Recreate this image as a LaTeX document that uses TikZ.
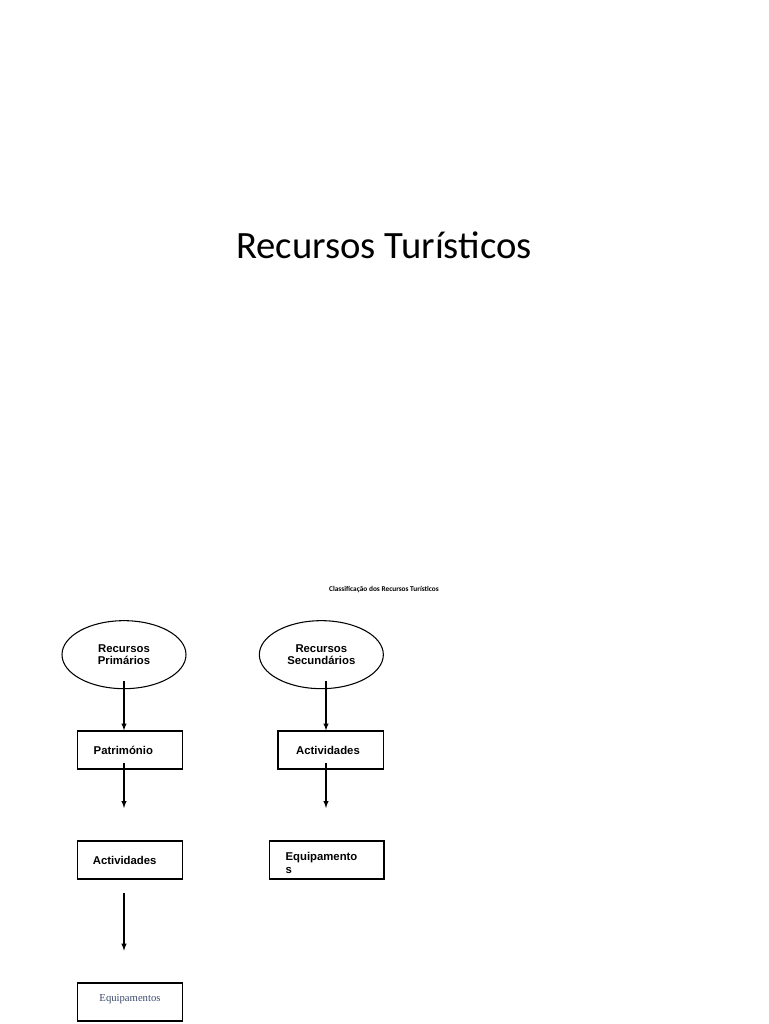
\documentclass[tikz,border=0pt]{standalone}
\usepackage{fontspec}
\setmainfont{Liberation Sans}
\newfontfamily\titlefont{Carlito}
\newfontfamily\eqfont{Liberation Serif}
\usetikzlibrary{shapes.geometric, positioning}
\definecolor{eqblue}{RGB}{60,75,110}
\begin{document}
\begin{tikzpicture}[x=1pt,y=-1pt,
    every node/.style={inner sep=0pt},
    recurso/.style={ellipse, draw, thick, minimum width=93pt, minimum height=51pt, font=\bfseries\fontsize{8.5}{9.5}\selectfont, align=center},
    caixa/.style={rectangle, draw, thick, minimum width=79pt, minimum height=28.5pt, font=\bfseries\fontsize{8.5}{9.5}\selectfont},
    seta/.style={-latex, thick}]
\useasboundingbox (0,0) rectangle (576,768);
\node (titulo) at (288,184) {\titlefont\fontsize{29}{34}\selectfont Recursos Turísticos};
\node (subtitulo) at (288,442.5) {\titlefont\bfseries\fontsize{5.5}{6.5}\selectfont Classificação dos Recursos Turísticos};

\node[recurso] (prim) at (93,491) {Recursos\\Primários};
\node[recurso] (sec) at (241,491) {Recursos\\Secundários};

\node[caixa] (patr) at (97.5,562.5) {\hspace*{-10pt}Património};
\node[caixa] (activ2) at (248,562.5) {\hspace*{-4pt}Actividades};
\node[caixa] (activ1) at (97.5,645) {\hspace*{-8pt}Actividades};
\node[caixa, minimum width=86pt] (equip2) at (245,645) {};
\node[font=\bfseries\fontsize{8.5}{9.5}\selectfont, align=left, fill=white, inner sep=1pt, anchor=north west] (equiptxt) at (213,638) {Equipamento\\s};
\node[caixa, font=\eqfont\fontsize{8}{9}\selectfont\color{eqblue}] (equip1) at (97.5,751.5) {\raisebox{6pt}{Equipamentos}};

% setas
\coordinate (p1) at (93,511);
\coordinate (p2) at (93,572);
\coordinate (p3) at (93,606);
\coordinate (p4) at (93,670);
\coordinate (p5) at (93,713);
\coordinate (s1) at (244.5,511);
\coordinate (s2) at (244.5,572);
\coordinate (s3) at (244.5,606);
\draw[seta] (p1) -- (patr.north -| p1);
\draw[seta] (p2) -- (p3);
\draw[seta] (p4) -- (p5);
\draw[seta] (s1) -- (activ2.north -| s1);
\draw[seta] (s2) -- (s3);
\end{tikzpicture}
\end{document}
